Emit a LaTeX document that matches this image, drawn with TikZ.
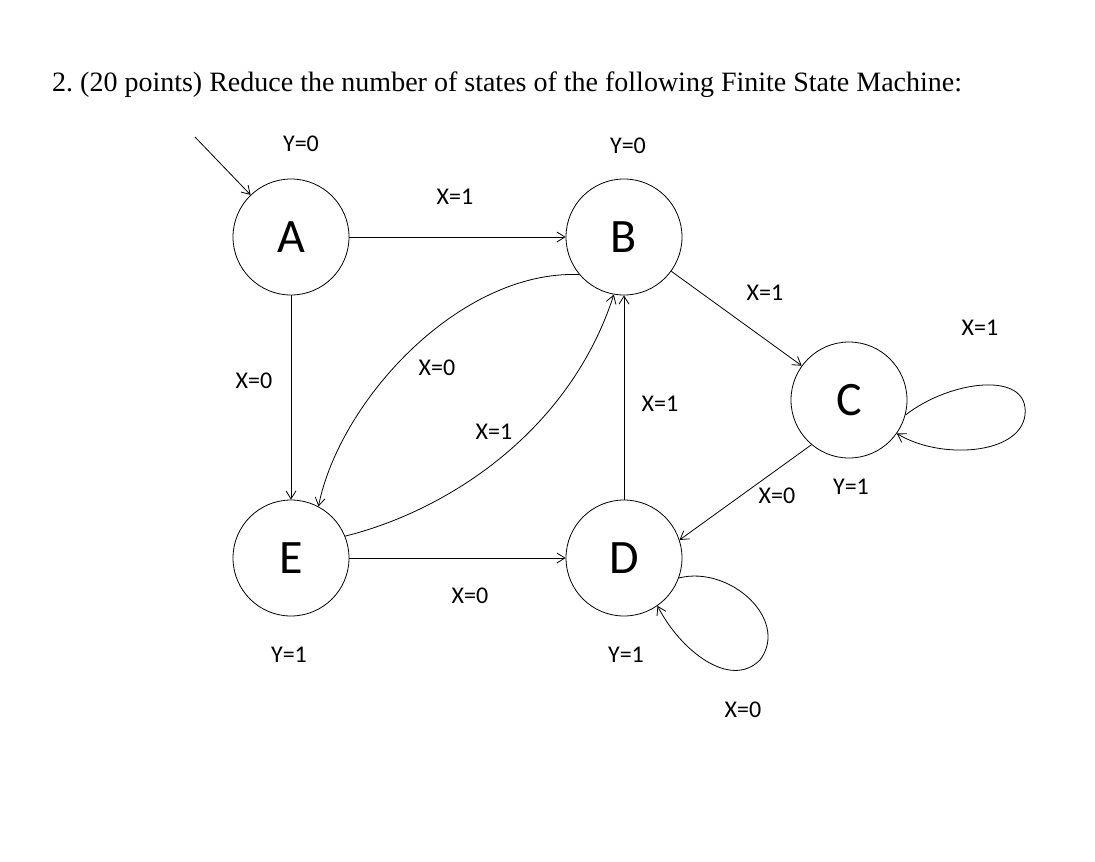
\documentclass[tikz,border=0pt]{standalone}
\usepackage{fontspec}
\setmainfont{Liberation Serif}
\newfontfamily\lbl{Carlito}
\usetikzlibrary{arrows.meta}
\begin{document}
\frenchspacing
\begin{tikzpicture}[x=1pt,y=-1pt,
  st/.style={circle,draw,line width=0.8pt,minimum size=116pt,inner sep=0pt,font=\lbl\fontsize{48}{52}\selectfont},
  lb/.style={font=\lbl\fontsize{24}{26}\selectfont,inner sep=0pt},
  ed/.style={draw,line width=0.8pt,-{Straight Barb[length=8pt,width=10pt]}}]
\useasboundingbox (0,0) rectangle (1095,862);
\node[anchor=west,font=\fontsize{28}{30}\selectfont,inner sep=0pt] (t) at (52,85) {2. (20 points) Reduce the number of states of the following Finite State Machine:};
\node[st] (A) at (291,237) {A};
\node[st] (B) at (624,237) {B};
\node[st] (C) at (849,400) {C};
\node[st] (E) at (291,558) {E};
\node[st] (D) at (624,558) {D};
\coordinate (s) at (195,137);
\path[ed] (s) -- (A);
\path[ed] (A) -- (B);
\path[ed] (A) -- (E);
\path[ed] (B) -- (C);
\path[ed] (B.220) .. controls (460,270) and (340,400) .. (E.62);
\path[ed] (E.22) .. controls (450,510) and (570,430) .. (B.260);
\path[ed] (D) -- (B);
\path[ed] (E) -- (D);
\path[ed] (C.230) -- (D.18);
\path[ed] (C.-15) .. controls (950,380) and (1030,370) .. (1025,415) .. controls (1020,455) and (940,460) .. (C.-35);
\path[ed] (D.-20) .. controls (730,565) and (790,620) .. (760,660) .. controls (730,690) and (680,650) .. (D.-55);
\node[lb] at (301,144) {Y=0};
\node[lb] at (628,146) {Y=0};
\node[lb] at (455,197) {X=1};
\node[lb] at (765,293) {X=1};
\node[lb] at (980,328) {X=1};
\node[lb] at (254,381) {X=0};
\node[lb] at (437,368) {X=0};
\node[lb] at (660,404) {X=1};
\node[lb] at (494,432) {X=1};
\node[lb] at (777,496) {X=0};
\node[lb] at (851,487) {Y=1};
\node[lb] at (470,596) {X=0};
\node[lb] at (289,655) {Y=1};
\node[lb] at (626,655) {Y=1};
\node[lb] at (743,710) {X=0};
\end{tikzpicture}
\end{document}
